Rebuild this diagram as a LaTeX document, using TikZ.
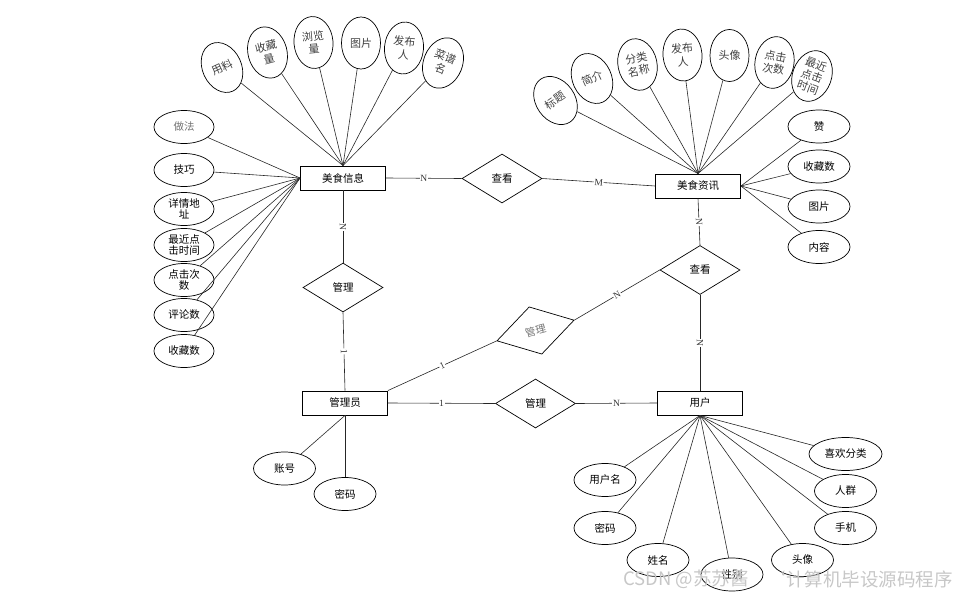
\documentclass[tikz,border=0pt]{standalone}
\usepackage{fontspec}
\setmainfont{Noto Sans CJK SC}
\newfontfamily\labfont{Liberation Serif}
\usetikzlibrary{shapes.geometric}
\begin{document}
\begin{tikzpicture}[x=1pt,y=-1pt,
  every node/.style={font=\fontsize{10.5}{12}\selectfont},
  conn/.style={draw=black!85, line width=0.6pt},
  ent/.style={draw, line width=0.9pt, rectangle, minimum width=85, minimum height=24, inner sep=0pt},
  rel/.style={draw, diamond, line width=0.7pt, minimum width=80, minimum height=49, inner sep=0pt},
  attr/.style={draw, ellipse, line width=0.7pt, minimum width=60, minimum height=33, inner sep=0pt, align=center, font=\fontsize{10.5}{11.5}\selectfont},
  tattr/.style={attr, minimum width=39, minimum height=52, text=black!75, font=\fontsize{11}{13}\selectfont},
  lab/.style={font=\labfont\fontsize{9.5}{10}\selectfont, fill=white, inner sep=0.6pt, text=black!80},
  wm/.style={font=\fontsize{18.5}{20}\selectfont, text=black!22, inner sep=0pt}
]
\useasboundingbox (0,0) rectangle (956,597);

% entities
\node[ent] (xx) at (343,178) {美食信息};
\node[ent] (zx) at (698,186) {美食资讯};
\node[ent] (gly) at (345,403) {管理员};
\node[ent] (yh) at (700,403) {用户};

% relations
\node[rel] (ck1) at (502,178.5) {查看};
\node[rel] (gl1) at (343,287.5) {管理};
\node[rel] (ck2) at (700,270) {查看};
\node[rel, rotate=15, text=black!55] (gl2) at (535.5,330.5) {管理};
\node[rel] (gl3) at (535.5,403.5) {管理};

% relation connectors
\draw[conn] (xx.east) -- node[lab]{N} (ck1.west);
\draw[conn] (ck1.east) -- node[lab,sloped]{M} (zx.west);
\draw[conn] (xx.south) -- node[lab,sloped]{N} (gl1.north);
\draw[conn] (gl1.south) -- node[lab,sloped]{1} (gly.north);
\draw[conn] (zx.south) -- node[lab,sloped]{N} (ck2.north);
\draw[conn] (ck2.south) -- node[lab,sloped]{N} (yh.north);
\draw[conn] (ck2.west) -- node[lab,sloped]{N} (gl2.east);
\draw[conn] (gl2.west) -- node[lab,sloped]{1} (gly.north east);
\draw[conn] (gly.east) -- node[lab]{1} (gl3.west);
\draw[conn] (gl3.east) -- node[lab]{N} (yh.west);

% 美食信息 top attributes
\node[tattr, rotate=25] (a1) at (222,67.5) {用料};
\node[tattr, rotate=15] (a2) at (267.5,52.5) {收藏\\量};
\node[tattr, rotate=5] (a3) at (313.5,42.5) {浏览\\量};
\node[tattr] (a4) at (361,43) {图片};
\node[tattr, rotate=-5] (a5) at (404,48) {发布\\人};
\node[tattr, rotate=-22] (a6) at (443,63) {菜谱\\名};
\foreach \n in {a1,a2,a3,a4,a5,a6} \draw[conn] (xx.north) -- (\n);

% 美食信息 left attributes
\node[attr, text=black!55] (b1) at (184,127) {做法};
\node[attr] (b2) at (184,170) {技巧};
\node[attr] (b3) at (184,209) {详情地\\址};
\node[attr] (b4) at (184,245) {最近点\\击时间};
\node[attr] (b5) at (184,280) {点击次\\数};
\node[attr] (b6) at (184,315) {评论数};
\node[attr] (b7) at (184,351) {收藏数};
\foreach \n in {b1,b2,b3,b4,b5,b6,b7} \draw[conn] (xx.west) -- (\n);

% 美食资讯 top attributes
\node[tattr, rotate=35] (c1) at (555.5,100.5) {标题};
\node[tattr, rotate=25] (c2) at (592,78.5) {简介};
\node[tattr, rotate=12] (c3) at (637.5,64.5) {分类\\名称};
\node[tattr, rotate=5] (c4) at (682.5,55) {发布\\人};
\node[tattr] (c5) at (729.5,55.5) {头像};
\node[tattr, rotate=-10] (c6) at (774.5,62.5) {点击\\次数};
\node[tattr, rotate=-20, font=\fontsize{11}{12}\selectfont] (c7) at (812,76) {最近\\点击\\时间};
\foreach \n in {c1,c2,c3,c4,c5,c6,c7} \draw[conn] (zx.north) -- (\n);

% 美食资讯 right attributes
\node[attr, minimum width=62] (d1) at (819,126.5) {赞};
\node[attr, minimum width=62] (d2) at (819,166.5) {收藏数};
\node[attr, minimum width=62] (d3) at (819,206.5) {图片};
\node[attr, minimum width=62] (d4) at (819,247) {内容};
\foreach \n in {d1,d2,d3,d4} \draw[conn] (zx.east) -- (\n);

% 管理员 attributes
\node[attr, minimum width=62] (e1) at (284.5,468.5) {账号};
\node[attr, minimum width=62] (e2) at (345,494) {密码};
\foreach \n in {e1,e2} \draw[conn] (gly.south) -- (\n);

% 用户 attributes
\node[attr, minimum width=62] (f1) at (605,480) {用户名};
\node[attr, minimum width=62] (f2) at (605,528) {密码};
\node[attr, minimum width=62] (f3) at (658,560) {姓名};
\node[attr, minimum width=62] (f4) at (732,574.5) {性别};
\node[attr, minimum width=62] (f5) at (802.5,560) {头像};
\node[attr, minimum width=62] (f6) at (845.5,528) {手机};
\node[attr, minimum width=62] (f7) at (845.5,491) {人群};
\node[attr, minimum width=73] (f8) at (845.5,454) {喜欢分类};
\foreach \n in {f1,f2,f3,f4,f5,f6,f7,f8} \draw[conn] (yh.south) -- (\n);

% watermark
\node[wm, anchor=west] (w1) at (623,579) {CSDN @苏苏酱};
\node[wm, anchor=east] (w2) at (953,579) {‘计算机毕设源码程序};
\end{tikzpicture}
\end{document}
